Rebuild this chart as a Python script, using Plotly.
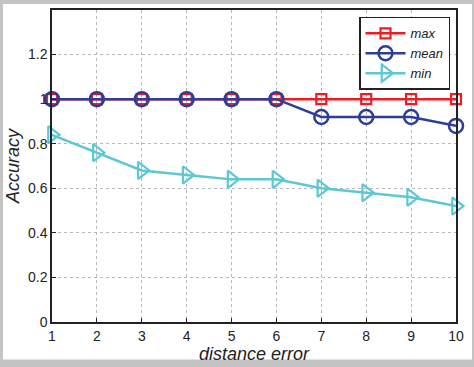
import plotly.graph_objects as go

x_vals = [1, 2, 3, 4, 5, 6, 7, 8, 9, 10]
acc_max = [1, 1, 1, 1, 1, 1, 1, 1, 1, 1]
acc_mean = [1, 1, 1, 1, 1, 1, 0.92, 0.92, 0.92, 0.88]
acc_min = [0.84, 0.76, 0.68, 0.66, 0.64, 0.64, 0.60, 0.58, 0.56, 0.52]
y_ticks = [0, 0.2, 0.4, 0.6, 0.8, 1, 1.2]
y_tick_text = ["0", "0.2", "0.4", "0.6", "0.8", "1", "1.2"]

W, H = 474, 367
L, R, T, B = 52, 18, 8, 43
pw, ph = W - L - R, H - T - B

def px_x(p):
    return (p - L) / pw

def px_y(p):
    return (H - B - p) / ph

fig = go.Figure()
fig.add_trace(go.Scatter(
    x=x_vals, y=acc_max, name="max", mode="lines+markers",
    line=dict(color="#ee1c25", width=2.5),
    marker=dict(symbol="square-open", size=10, color="#ee1c25", line=dict(width=2.2)),
    cliponaxis=False))
fig.add_trace(go.Scatter(
    x=x_vals, y=acc_mean, name="mean", mode="lines+markers",
    line=dict(color="#2e3d96", width=2.5),
    marker=dict(symbol="circle-open", size=14, color="#2e3d96", line=dict(width=2.5)),
    cliponaxis=False))
fig.add_trace(go.Scatter(
    x=x_vals, y=acc_min, name="min", mode="lines+markers",
    line=dict(color="#5cc8d4", width=2.5),
    marker=dict(symbol="triangle-right-open", size=15, color="#5cc8d4", line=dict(width=2.2)),
    cliponaxis=False))

fig.add_shape(type="rect", xref="paper", yref="paper", layer="below",
              x0=px_x(3), x1=px_x(472), y0=px_y(362), y1=px_y(2),
              fillcolor="white", line=dict(width=0))

font_family = "Liberation Sans, Arial, sans-serif"
fig.update_layout(
    width=W, height=H,
    margin=dict(l=L, r=R, t=T, b=B, pad=0),
    paper_bgcolor="#c4c4c4",
    plot_bgcolor="white",
    font=dict(family=font_family, size=14, color="#222222"),
    showlegend=True,
    legend=dict(
        x=px_x(450), y=px_y(15), xanchor="right", yanchor="top",
        bgcolor="white", bordercolor="#222222", borderwidth=1.5,
        font=dict(family=font_family, size=13, style="italic"),
        itemwidth=40, tracegroupgap=0,
    ),
    xaxis=dict(
        range=[1, 10], tickvals=x_vals, ticktext=[str(v) for v in x_vals],
        showgrid=True, gridcolor="#b8b8b8", griddash="dot", gridwidth=1,
        showline=True, linecolor="#222222", linewidth=1.5, mirror=True,
        ticks="inside", ticklen=4, tickcolor="#222222",
        zeroline=False,
        title=dict(text="distance error", font=dict(size=18, style="italic"), standoff=3),
    ),
    yaxis=dict(
        range=[0, 1.4], tickvals=y_ticks, ticktext=y_tick_text,
        showgrid=True, gridcolor="#b8b8b8", griddash="dot", gridwidth=1,
        showline=True, linecolor="#222222", linewidth=1.5, mirror=True,
        ticks="inside", ticklen=4, tickcolor="#222222",
        zeroline=False,
        title=dict(text="Accuracy", font=dict(size=18, style="italic"), standoff=4),
    ),
)

fig.write_html("out.html", config={"displayModeBar": False},
               post_script="document.body.style.margin='0';document.body.style.overflow='hidden';")
